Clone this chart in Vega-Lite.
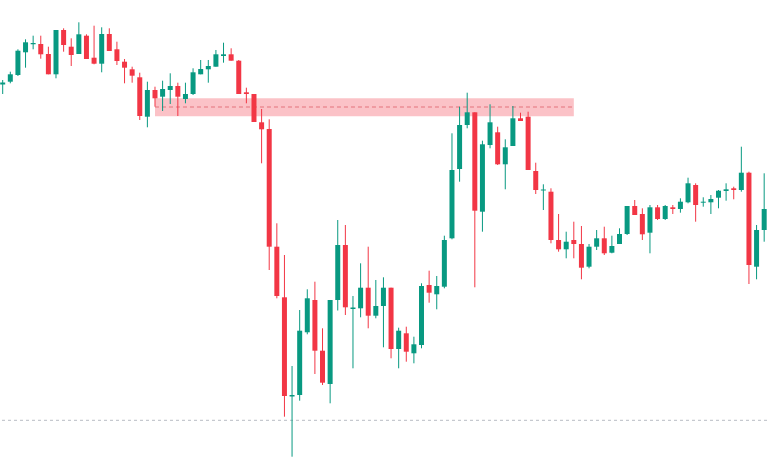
{
"$schema": "https://vega.github.io/schema/vega-lite/v6.json",
"width": 768, "height": 466, "padding": 0,
"autosize": {"type": "fit", "contains": "padding"},
"background": "white",
"config": {"view": {"stroke": null}, "scale": {"continuousPadding": 0}},
"datasets": {
"candles": [
{"i":0,"o":381.5,"c":383.5,"h":386,"l":372},
{"i":1,"o":384.3,"c":391.7,"h":394.3,"l":382.7},
{"i":2,"o":391,"c":415.3,"h":416.7,"l":390},
{"i":3,"o":413.7,"c":423.7,"h":426.7,"l":398.3},
{"i":4,"o":421.7,"c":423,"h":430.3,"l":416.7},
{"i":5,"o":422,"c":411.7,"h":430.3,"l":407.3},
{"i":6,"o":412,"c":391.7,"h":419.3,"l":391.7},
{"i":7,"o":391.7,"c":436,"h":436,"l":387.7},
{"i":8,"o":436,"c":421,"h":437.7,"l":414.3},
{"i":9,"o":419.3,"c":411,"h":427.7,"l":400},
{"i":10,"o":412,"c":431.7,"h":443.7,"l":412},
{"i":11,"o":430.3,"c":407,"h":431.7,"l":407},
{"i":12,"o":408.3,"c":402.3,"h":440.3,"l":401.7},
{"i":13,"o":402.3,"c":432,"h":438.7,"l":393.7},
{"i":14,"o":432,"c":415,"h":437.7,"l":415},
{"i":15,"o":416.7,"c":405,"h":424.3,"l":401},
{"i":16,"o":404.3,"c":398.3,"h":407,"l":382.7},
{"i":17,"o":396.7,"c":390.3,"h":399.3,"l":383.3},
{"i":18,"o":388.7,"c":350,"h":393.3,"l":346},
{"i":19,"o":349.3,"c":376,"h":384.3,"l":338.7},
{"i":20,"o":376,"c":367.7,"h":379.3,"l":359.3},
{"i":21,"o":369.3,"c":377,"h":385.3,"l":355},
{"i":22,"o":376,"c":380,"h":392.7,"l":362},
{"i":23,"o":380,"c":369.3,"h":383.3,"l":350},
{"i":24,"o":367,"c":372,"h":383.3,"l":362.7},
{"i":25,"o":372,"c":393.7,"h":397.7,"l":371},
{"i":26,"o":391.7,"c":397,"h":406,"l":391.7},
{"i":27,"o":396.7,"c":400,"h":406,"l":383.3},
{"i":28,"o":399.3,"c":411.7,"h":416,"l":399.3},
{"i":29,"o":410,"c":411.7,"h":423.3,"l":403.3},
{"i":30,"o":411.7,"c":405.3,"h":417.7,"l":405.3},
{"i":31,"o":405.3,"c":372,"h":406,"l":372},
{"i":32,"o":373.7,"c":372,"h":378.3,"l":362.7},
{"i":33,"o":372,"c":344,"h":372,"l":344},
{"i":34,"o":343.7,"c":336.7,"h":357,"l":302.7},
{"i":35,"o":337,"c":219.3,"h":346.7,"l":196},
{"i":36,"o":219.3,"c":170,"h":242.7,"l":167.7},
{"i":37,"o":168.7,"c":70,"h":211,"l":49.3},
{"i":38,"o":69.5,"c":71,"h":100,"l":9.3},
{"i":39,"o":71,"c":135.3,"h":156,"l":65.3},
{"i":40,"o":133.7,"c":167.7,"h":176.7,"l":131.7},
{"i":41,"o":166,"c":115.3,"h":184.3,"l":92},
{"i":42,"o":115.3,"c":83.3,"h":137.7,"l":81},
{"i":43,"o":82,"c":166,"h":166,"l":62.7},
{"i":44,"o":166,"c":221,"h":246,"l":155.5},
{"i":45,"o":221,"c":158.7,"h":241,"l":151},
{"i":46,"o":157,"c":158.5,"h":170,"l":97.7},
{"i":47,"o":157.7,"c":178.3,"h":202.7,"l":148.7},
{"i":48,"o":178.3,"c":150.3,"h":219.3,"l":137.7},
{"i":49,"o":150.3,"c":160,"h":186,"l":147.7},
{"i":50,"o":160,"c":178.3,"h":188.7,"l":118.7},
{"i":51,"o":178.3,"c":117,"h":178.3,"l":107.7},
{"i":52,"o":117,"c":135.3,"h":138.3,"l":97.7},
{"i":53,"o":132.7,"c":114.3,"h":139.3,"l":104.3},
{"i":54,"o":112.7,"c":121.7,"h":129.3,"l":102.7},
{"i":55,"o":121,"c":180,"h":182.7,"l":117.7},
{"i":56,"o":181,"c":173.3,"h":195.3,"l":163.3},
{"i":57,"o":171.7,"c":180,"h":190,"l":156.7},
{"i":58,"o":179.3,"c":226,"h":230.3,"l":177.7},
{"i":59,"o":227.7,"c":296,"h":332.7,"l":226.7},
{"i":60,"o":297,"c":341,"h":359.3,"l":284.3},
{"i":61,"o":341,"c":353.7,"h":373.3,"l":337.7},
{"i":62,"o":353.7,"c":255.3,"h":353.7,"l":178.7},
{"i":63,"o":254.3,"c":321.7,"h":325.3,"l":234.3},
{"i":64,"o":321,"c":343.7,"h":361.7,"l":317.7},
{"i":65,"o":333.7,"c":301.7,"h":339.3,"l":301},
{"i":66,"o":301.7,"c":318.7,"h":326.7,"l":276.7},
{"i":67,"o":320,"c":347.7,"h":360,"l":320},
{"i":68,"o":347.7,"c":345,"h":353.3,"l":345},
{"i":69,"o":349.3,"c":296,"h":354.3,"l":296},
{"i":70,"o":295,"c":276,"h":303.3,"l":272},
{"i":71,"o":275.5,"c":276.5,"h":281.7,"l":256},
{"i":72,"o":274.3,"c":226,"h":277.7,"l":222.7},
{"i":73,"o":226,"c":216.7,"h":252,"l":214.3},
{"i":74,"o":216.7,"c":224.3,"h":234.3,"l":207.7},
{"i":75,"o":226,"c":222,"h":244.3,"l":207.7},
{"i":76,"o":222,"c":198.3,"h":240,"l":186.7},
{"i":77,"o":199.3,"c":219.3,"h":222,"l":197.7},
{"i":78,"o":219.3,"c":227.7,"h":236,"l":216},
{"i":79,"o":227.7,"c":212.7,"h":239.3,"l":211},
{"i":80,"o":213.3,"c":220,"h":230.3,"l":212.7},
{"i":81,"o":222,"c":232,"h":237.7,"l":222},
{"i":82,"o":232,"c":260,"h":260,"l":231},
{"i":83,"o":260,"c":251,"h":266,"l":251},
{"i":84,"o":252,"c":231.7,"h":257.7,"l":226},
{"i":85,"o":233.3,"c":258.7,"h":261,"l":212.7},
{"i":86,"o":258.7,"c":247,"h":261,"l":246},
{"i":87,"o":247,"c":260,"h":261,"l":246},
{"i":88,"o":258.7,"c":257,"h":261,"l":252},
{"i":89,"o":257,"c":264.3,"h":267.7,"l":253.3},
{"i":90,"o":263.7,"c":282.7,"h":288.3,"l":262.7},
{"i":91,"o":281,"c":261,"h":282.7,"l":244.3},
{"i":92,"o":263.3,"c":264.3,"h":268.7,"l":259.3},
{"i":93,"o":263.7,"c":267,"h":271,"l":252},
{"i":94,"o":268.3,"c":275.3,"h":276,"l":257.7},
{"i":95,"o":275,"c":276.7,"h":282.7,"l":265.3},
{"i":96,"o":277.7,"c":276,"h":279.3,"l":266.7},
{"i":97,"o":276,"c":293.3,"h":319.3,"l":274.3},
{"i":98,"o":293.3,"c":201,"h":294.3,"l":182},
{"i":99,"o":199.3,"c":236,"h":241,"l":186.7},
{"i":100,"o":236,"c":257,"h":292.7,"l":224.3}
],
"zone": [{"i1": 20, "i2": 75, "top": 367.7, "bot": 349.7, "mid": 359}],
"level": [{"lvl": 45.7}]
},
"layer": [
{"data": {"name": "zone"},
 "mark": {"type": "rect", "color": "#f23645", "opacity": 0.3},
 "encoding": {
  "x": {"field": "i1", "type": "quantitative", "scale": {"domain": [-0.2227, 100.37], "nice": false, "zero": false, "padding": 0}, "axis": null},
  "x2": {"field": "i2"},
  "y": {"field": "top", "type": "quantitative", "scale": {"domain": [0, 466], "nice": false, "zero": false, "padding": 0}, "axis": null},
  "y2": {"field": "bot"}}},
{"data": {"name": "zone"},
 "mark": {"type": "rule", "color": "#e0606a", "strokeDash": [4, 3], "strokeWidth": 1, "opacity": 0.8},
 "encoding": {
  "x": {"field": "i1", "type": "quantitative", "axis": null},
  "x2": {"field": "i2"},
  "y": {"field": "mid", "type": "quantitative", "axis": null}}},
{"data": {"name": "level"},
 "mark": {"type": "rule", "color": "#b8bcc4", "strokeDash": [3, 3], "strokeWidth": 1},
 "encoding": {"y": {"field": "lvl", "type": "quantitative", "axis": null}}},
{"data": {"name": "candles"},
 "mark": {"type": "rule", "strokeWidth": 1},
 "encoding": {
  "x": {"field": "i", "type": "quantitative", "axis": null},
  "y": {"field": "l", "type": "quantitative", "axis": null},
  "y2": {"field": "h"},
  "color": {"condition": {"test": "datum.c >= datum.o", "value": "#089981"}, "value": "#f23645"}}},
{"data": {"name": "candles"},
 "mark": {"type": "bar", "size": 5},
 "encoding": {
  "x": {"field": "i", "type": "quantitative", "axis": null},
  "y": {"field": "o", "type": "quantitative", "axis": null},
  "y2": {"field": "c"},
  "color": {"condition": {"test": "datum.c >= datum.o", "value": "#089981"}, "value": "#f23645"}}}
]
}
